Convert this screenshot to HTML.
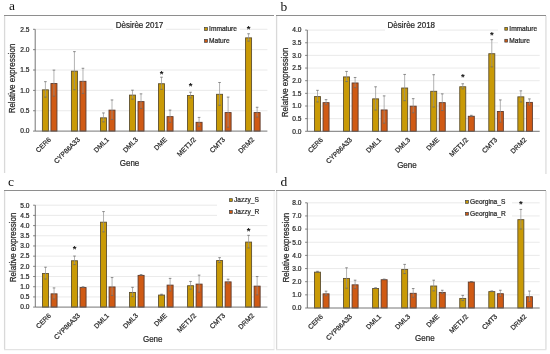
<!DOCTYPE html>
<html><head><meta charset="utf-8"><title>Figure</title>
<style>
html,body{margin:0;padding:0;background:#fff;}
body{width:550px;height:354px;overflow:hidden;font-family:"Liberation Sans",sans-serif;}
svg{display:block;will-change:transform;}
</style></head><body>
<svg width="550" height="354" viewBox="0 0 550 354">
<rect width="550" height="354" fill="#fff"/>
<path d="M4.6 173V16M276.6 173V16M4.6 349V191M276.6 349V191" fill="none" stroke="#d9d9d9" stroke-width="1.3"/>
<path d="M545.9 174V16M545.9 349V191" fill="none" stroke="#e6e6e6" stroke-width="1.8"/>
<path d="M274.1 349V191" fill="none" stroke="#f1f1f1" stroke-width="1.2"/>
<path d="M4 349.6H274.5M276 349.6H546.5" fill="none" stroke="#e3e3e3" stroke-width="1.4"/>
<path d="M4 15.5H274M276 15.5H546M4 190.5H275M276 190.5H546" fill="none" stroke="#8e8e8e" stroke-width="1"/>
<text x="9.0" y="10.3" font-family="Liberation Serif, serif" font-size="13.5" fill="#111">a</text>
<line x1="35.2" x2="267.4" y1="110.74" y2="110.74" stroke="#e4e4e4" stroke-width="0.8"/>
<line x1="35.2" x2="267.4" y1="90.38" y2="90.38" stroke="#e4e4e4" stroke-width="0.8"/>
<line x1="35.2" x2="267.4" y1="70.02" y2="70.02" stroke="#e4e4e4" stroke-width="0.8"/>
<line x1="35.2" x2="267.4" y1="49.66" y2="49.66" stroke="#e4e4e4" stroke-width="0.8"/>
<line x1="35.2" x2="267.4" y1="29.30" y2="29.30" stroke="#e4e4e4" stroke-width="0.8"/>
<rect x="113" y="23.3" width="53" height="10" fill="#fff"/>
<rect x="200" y="20" width="40" height="26" fill="#fff"/>
<rect x="42.40" y="89.84" width="6.0" height="41.26" fill="#c99a06" stroke="#5e5030" stroke-width="0.9"/>
<path d="M45.40 81.67V97.10" stroke="#929292" stroke-width="0.7" fill="none"/>
<path d="M44.10 81.67H46.70M44.10 97.10H46.70" stroke="#6a6a6a" stroke-width="0.75" fill="none"/>
<rect x="50.95" y="83.55" width="6.0" height="47.55" fill="#d05a14" stroke="#5e3a2c" stroke-width="0.9"/>
<path d="M53.95 70.10V96.09" stroke="#929292" stroke-width="0.7" fill="none"/>
<path d="M52.65 70.10H55.25M52.65 96.09H55.25" stroke="#6a6a6a" stroke-width="0.75" fill="none"/>
<rect x="71.42" y="71.16" width="6.0" height="59.94" fill="#c99a06" stroke="#5e5030" stroke-width="0.9"/>
<path d="M74.42 51.63V89.79" stroke="#929292" stroke-width="0.7" fill="none"/>
<path d="M73.12 51.63H75.72M73.12 89.79H75.72" stroke="#6a6a6a" stroke-width="0.75" fill="none"/>
<rect x="79.97" y="81.31" width="6.0" height="49.79" fill="#d05a14" stroke="#5e3a2c" stroke-width="0.9"/>
<path d="M82.97 68.28V93.45" stroke="#929292" stroke-width="0.7" fill="none"/>
<path d="M81.67 68.28H84.27M81.67 93.45H84.27" stroke="#6a6a6a" stroke-width="0.75" fill="none"/>
<rect x="100.45" y="117.85" width="6.0" height="13.25" fill="#c99a06" stroke="#5e5030" stroke-width="0.9"/>
<path d="M103.45 112.94V121.87" stroke="#929292" stroke-width="0.7" fill="none"/>
<path d="M102.15 112.94H104.75M102.15 121.87H104.75" stroke="#6a6a6a" stroke-width="0.75" fill="none"/>
<rect x="109.00" y="110.14" width="6.0" height="20.96" fill="#d05a14" stroke="#5e3a2c" stroke-width="0.9"/>
<path d="M112.00 99.94V119.43" stroke="#929292" stroke-width="0.7" fill="none"/>
<path d="M110.70 99.94H113.30M110.70 119.43H113.30" stroke="#6a6a6a" stroke-width="0.75" fill="none"/>
<rect x="129.47" y="95.12" width="6.0" height="35.98" fill="#c99a06" stroke="#5e5030" stroke-width="0.9"/>
<path d="M132.47 90.20V99.13" stroke="#929292" stroke-width="0.7" fill="none"/>
<path d="M131.17 90.20H133.77M131.17 99.13H133.77" stroke="#6a6a6a" stroke-width="0.75" fill="none"/>
<rect x="138.02" y="101.61" width="6.0" height="29.49" fill="#d05a14" stroke="#5e3a2c" stroke-width="0.9"/>
<path d="M141.02 93.85V108.47" stroke="#929292" stroke-width="0.7" fill="none"/>
<path d="M139.72 93.85H142.32M139.72 108.47H142.32" stroke="#6a6a6a" stroke-width="0.75" fill="none"/>
<rect x="158.50" y="83.75" width="6.0" height="47.35" fill="#c99a06" stroke="#5e5030" stroke-width="0.9"/>
<path d="M161.50 77.21V89.39" stroke="#929292" stroke-width="0.7" fill="none"/>
<path d="M160.20 77.21H162.80M160.20 89.39H162.80" stroke="#6a6a6a" stroke-width="0.75" fill="none"/>
<rect x="167.05" y="116.63" width="6.0" height="14.47" fill="#d05a14" stroke="#5e3a2c" stroke-width="0.9"/>
<path d="M170.05 110.09V122.27" stroke="#929292" stroke-width="0.7" fill="none"/>
<path d="M168.75 110.09H171.35M168.75 122.27H171.35" stroke="#6a6a6a" stroke-width="0.75" fill="none"/>
<rect x="187.52" y="95.52" width="6.0" height="35.58" fill="#c99a06" stroke="#5e5030" stroke-width="0.9"/>
<path d="M190.52 92.23V97.91" stroke="#929292" stroke-width="0.7" fill="none"/>
<path d="M189.22 92.23H191.82M189.22 97.91H191.82" stroke="#6a6a6a" stroke-width="0.75" fill="none"/>
<rect x="196.07" y="122.32" width="6.0" height="8.78" fill="#d05a14" stroke="#5e3a2c" stroke-width="0.9"/>
<path d="M199.07 117.40V126.33" stroke="#929292" stroke-width="0.7" fill="none"/>
<path d="M197.77 117.40H200.38M197.77 126.33H200.38" stroke="#6a6a6a" stroke-width="0.75" fill="none"/>
<rect x="216.55" y="94.30" width="6.0" height="36.80" fill="#c99a06" stroke="#5e5030" stroke-width="0.9"/>
<path d="M219.55 82.49V105.22" stroke="#929292" stroke-width="0.7" fill="none"/>
<path d="M218.25 82.49H220.85M218.25 105.22H220.85" stroke="#6a6a6a" stroke-width="0.75" fill="none"/>
<rect x="225.10" y="112.57" width="6.0" height="18.53" fill="#d05a14" stroke="#5e3a2c" stroke-width="0.9"/>
<path d="M228.10 97.10V127.15" stroke="#929292" stroke-width="0.7" fill="none"/>
<path d="M226.80 97.10H229.40M226.80 127.15H229.40" stroke="#6a6a6a" stroke-width="0.75" fill="none"/>
<rect x="245.57" y="37.87" width="6.0" height="93.23" fill="#c99a06" stroke="#5e5030" stroke-width="0.9"/>
<path d="M248.57 33.77V41.07" stroke="#929292" stroke-width="0.7" fill="none"/>
<path d="M247.27 33.77H249.88M247.27 41.07H249.88" stroke="#6a6a6a" stroke-width="0.75" fill="none"/>
<rect x="254.12" y="112.57" width="6.0" height="18.53" fill="#d05a14" stroke="#5e3a2c" stroke-width="0.9"/>
<path d="M257.12 107.25V117.00" stroke="#929292" stroke-width="0.7" fill="none"/>
<path d="M255.82 107.25H258.43M255.82 117.00H258.43" stroke="#6a6a6a" stroke-width="0.75" fill="none"/>
<text x="161.50" y="77.00" font-family="Liberation Sans, sans-serif" font-weight="bold" font-size="9.5" text-anchor="middle" fill="#111">*</text>
<text x="190.52" y="89.40" font-family="Liberation Sans, sans-serif" font-weight="bold" font-size="9.5" text-anchor="middle" fill="#111">*</text>
<text x="248.57" y="32.20" font-family="Liberation Sans, sans-serif" font-weight="bold" font-size="9.5" text-anchor="middle" fill="#111">*</text>
<line x1="35.2" x2="35.2" y1="29.3" y2="131.1" stroke="#666666" stroke-width="0.9"/>
<line x1="35.2" x2="267.4" y1="131.1" y2="131.1" stroke="#666666" stroke-width="0.9"/>
<line x1="33.0" x2="35.2" y1="131.10" y2="131.10" stroke="#666666" stroke-width="0.8"/>
<text x="29.40" y="133.40" font-family="Liberation Sans, sans-serif" stroke="#2a2a2a" stroke-width="0.22" font-size="6.6" text-anchor="end" fill="#2a2a2a">0.0</text>
<line x1="33.0" x2="35.2" y1="110.74" y2="110.74" stroke="#666666" stroke-width="0.8"/>
<text x="29.40" y="113.04" font-family="Liberation Sans, sans-serif" stroke="#2a2a2a" stroke-width="0.22" font-size="6.6" text-anchor="end" fill="#2a2a2a">0.5</text>
<line x1="33.0" x2="35.2" y1="90.38" y2="90.38" stroke="#666666" stroke-width="0.8"/>
<text x="29.40" y="92.68" font-family="Liberation Sans, sans-serif" stroke="#2a2a2a" stroke-width="0.22" font-size="6.6" text-anchor="end" fill="#2a2a2a">1.0</text>
<line x1="33.0" x2="35.2" y1="70.02" y2="70.02" stroke="#666666" stroke-width="0.8"/>
<text x="29.40" y="72.32" font-family="Liberation Sans, sans-serif" stroke="#2a2a2a" stroke-width="0.22" font-size="6.6" text-anchor="end" fill="#2a2a2a">1.5</text>
<line x1="33.0" x2="35.2" y1="49.66" y2="49.66" stroke="#666666" stroke-width="0.8"/>
<text x="29.40" y="51.96" font-family="Liberation Sans, sans-serif" stroke="#2a2a2a" stroke-width="0.22" font-size="6.6" text-anchor="end" fill="#2a2a2a">2.0</text>
<line x1="33.0" x2="35.2" y1="29.30" y2="29.30" stroke="#666666" stroke-width="0.8"/>
<text x="29.40" y="31.60" font-family="Liberation Sans, sans-serif" stroke="#2a2a2a" stroke-width="0.22" font-size="6.6" text-anchor="end" fill="#2a2a2a">2.5</text>
<text transform="translate(51.40,140.10) rotate(-45)" font-family="Liberation Sans, sans-serif" stroke="#2a2a2a" stroke-width="0.22" font-size="6.8" text-anchor="end" fill="#2a2a2a">CER6</text>
<text transform="translate(80.42,140.10) rotate(-45)" font-family="Liberation Sans, sans-serif" stroke="#2a2a2a" stroke-width="0.22" font-size="6.8" text-anchor="end" fill="#2a2a2a">CYP86A33</text>
<text transform="translate(109.45,140.10) rotate(-45)" font-family="Liberation Sans, sans-serif" stroke="#2a2a2a" stroke-width="0.22" font-size="6.8" text-anchor="end" fill="#2a2a2a">DML1</text>
<text transform="translate(138.47,140.10) rotate(-45)" font-family="Liberation Sans, sans-serif" stroke="#2a2a2a" stroke-width="0.22" font-size="6.8" text-anchor="end" fill="#2a2a2a">DML3</text>
<text transform="translate(167.50,140.10) rotate(-45)" font-family="Liberation Sans, sans-serif" stroke="#2a2a2a" stroke-width="0.22" font-size="6.8" text-anchor="end" fill="#2a2a2a">DME</text>
<text transform="translate(196.52,140.10) rotate(-45)" font-family="Liberation Sans, sans-serif" stroke="#2a2a2a" stroke-width="0.22" font-size="6.8" text-anchor="end" fill="#2a2a2a">MET1/2</text>
<text transform="translate(225.55,140.10) rotate(-45)" font-family="Liberation Sans, sans-serif" stroke="#2a2a2a" stroke-width="0.22" font-size="6.8" text-anchor="end" fill="#2a2a2a">CMT3</text>
<text transform="translate(254.57,140.10) rotate(-45)" font-family="Liberation Sans, sans-serif" stroke="#2a2a2a" stroke-width="0.22" font-size="6.8" text-anchor="end" fill="#2a2a2a">DRM2</text>
<text transform="translate(139.5,28.2) scale(1,1.12)" font-family="Liberation Sans, sans-serif" stroke="#2a2a2a" stroke-width="0.22" font-size="8" text-anchor="middle" fill="#2a2a2a">Dèsirèe 2017</text>
<rect x="204.60000000000002" y="27.599999999999998" width="2.8" height="2.8" fill="#c99a06" stroke="#3c3c3c" stroke-width="0.7"/>
<text x="209.10000000000002" y="31.299999999999997" font-family="Liberation Sans, sans-serif" stroke="#2a2a2a" stroke-width="0.22" font-size="6.6" fill="#2a2a2a">Immature</text>
<rect x="204.60000000000002" y="39.5" width="2.8" height="2.8" fill="#d05a14" stroke="#3c3c3c" stroke-width="0.7"/>
<text x="209.10000000000002" y="43.199999999999996" font-family="Liberation Sans, sans-serif" stroke="#2a2a2a" stroke-width="0.22" font-size="6.6" fill="#2a2a2a">Mature</text>
<text transform="translate(15.40,78.50) rotate(-90) scale(1,1.12)" font-family="Liberation Sans, sans-serif" stroke="#2a2a2a" stroke-width="0.22" font-size="8" text-anchor="middle" fill="#2a2a2a">Relative expression</text>
<text transform="translate(129.5,166.0) scale(1,1.12)" font-family="Liberation Sans, sans-serif" stroke="#2a2a2a" stroke-width="0.22" font-size="8" text-anchor="middle" fill="#2a2a2a">Gene</text>
<text x="280.5" y="10.6" font-family="Liberation Serif, serif" font-size="13.5" fill="#111">b</text>
<line x1="307.3" x2="539.7" y1="118.65" y2="118.65" stroke="#e4e4e4" stroke-width="0.8"/>
<line x1="307.3" x2="539.7" y1="106.00" y2="106.00" stroke="#e4e4e4" stroke-width="0.8"/>
<line x1="307.3" x2="539.7" y1="93.35" y2="93.35" stroke="#e4e4e4" stroke-width="0.8"/>
<line x1="307.3" x2="539.7" y1="80.70" y2="80.70" stroke="#e4e4e4" stroke-width="0.8"/>
<line x1="307.3" x2="539.7" y1="68.05" y2="68.05" stroke="#e4e4e4" stroke-width="0.8"/>
<line x1="307.3" x2="539.7" y1="55.40" y2="55.40" stroke="#e4e4e4" stroke-width="0.8"/>
<line x1="307.3" x2="539.7" y1="42.75" y2="42.75" stroke="#e4e4e4" stroke-width="0.8"/>
<line x1="307.3" x2="539.7" y1="30.10" y2="30.10" stroke="#e4e4e4" stroke-width="0.8"/>
<rect x="385" y="24.1" width="53" height="10" fill="#fff"/>
<rect x="498" y="20" width="47" height="30" fill="#fff"/>
<rect x="314.50" y="96.59" width="6.0" height="34.71" fill="#c99a06" stroke="#5e5030" stroke-width="0.9"/>
<path d="M317.50 90.34V101.94" stroke="#929292" stroke-width="0.7" fill="none"/>
<path d="M316.20 90.34H318.80M316.20 101.94H318.80" stroke="#6a6a6a" stroke-width="0.75" fill="none"/>
<rect x="323.05" y="102.65" width="6.0" height="28.65" fill="#d05a14" stroke="#5e3a2c" stroke-width="0.9"/>
<path d="M326.05 99.67V104.72" stroke="#929292" stroke-width="0.7" fill="none"/>
<path d="M324.75 99.67H327.35M324.75 104.72H327.35" stroke="#6a6a6a" stroke-width="0.75" fill="none"/>
<rect x="343.55" y="76.92" width="6.0" height="54.38" fill="#c99a06" stroke="#5e5030" stroke-width="0.9"/>
<path d="M346.55 71.43V81.52" stroke="#929292" stroke-width="0.7" fill="none"/>
<path d="M345.25 71.43H347.85M345.25 81.52H347.85" stroke="#6a6a6a" stroke-width="0.75" fill="none"/>
<rect x="352.10" y="82.98" width="6.0" height="48.32" fill="#d05a14" stroke="#5e3a2c" stroke-width="0.9"/>
<path d="M355.10 77.48V87.57" stroke="#929292" stroke-width="0.7" fill="none"/>
<path d="M353.80 77.48H356.40M353.80 87.57H356.40" stroke="#6a6a6a" stroke-width="0.75" fill="none"/>
<rect x="372.60" y="98.86" width="6.0" height="32.44" fill="#c99a06" stroke="#5e5030" stroke-width="0.9"/>
<path d="M375.60 86.81V110.02" stroke="#929292" stroke-width="0.7" fill="none"/>
<path d="M374.30 86.81H376.90M374.30 110.02H376.90" stroke="#6a6a6a" stroke-width="0.75" fill="none"/>
<rect x="381.15" y="109.96" width="6.0" height="21.34" fill="#d05a14" stroke="#5e3a2c" stroke-width="0.9"/>
<path d="M384.15 95.89V123.13" stroke="#929292" stroke-width="0.7" fill="none"/>
<path d="M382.85 95.89H385.45M382.85 123.13H385.45" stroke="#6a6a6a" stroke-width="0.75" fill="none"/>
<rect x="401.65" y="88.02" width="6.0" height="43.28" fill="#c99a06" stroke="#5e5030" stroke-width="0.9"/>
<path d="M404.65 74.45V100.68" stroke="#929292" stroke-width="0.7" fill="none"/>
<path d="M403.35 74.45H405.95M403.35 100.68H405.95" stroke="#6a6a6a" stroke-width="0.75" fill="none"/>
<rect x="410.20" y="106.18" width="6.0" height="25.12" fill="#d05a14" stroke="#5e3a2c" stroke-width="0.9"/>
<path d="M413.20 98.67V112.79" stroke="#929292" stroke-width="0.7" fill="none"/>
<path d="M411.90 98.67H414.50M411.90 112.79H414.50" stroke="#6a6a6a" stroke-width="0.75" fill="none"/>
<rect x="430.70" y="91.30" width="6.0" height="40.00" fill="#c99a06" stroke="#5e5030" stroke-width="0.9"/>
<path d="M433.70 74.71V106.99" stroke="#929292" stroke-width="0.7" fill="none"/>
<path d="M432.40 74.71H435.00M432.40 106.99H435.00" stroke="#6a6a6a" stroke-width="0.75" fill="none"/>
<rect x="439.25" y="102.65" width="6.0" height="28.65" fill="#d05a14" stroke="#5e3a2c" stroke-width="0.9"/>
<path d="M442.25 93.87V110.52" stroke="#929292" stroke-width="0.7" fill="none"/>
<path d="M440.95 93.87H443.55M440.95 110.52H443.55" stroke="#6a6a6a" stroke-width="0.75" fill="none"/>
<rect x="459.75" y="86.76" width="6.0" height="44.54" fill="#c99a06" stroke="#5e5030" stroke-width="0.9"/>
<path d="M462.75 83.79V88.83" stroke="#929292" stroke-width="0.7" fill="none"/>
<path d="M461.45 83.79H464.05M461.45 88.83H464.05" stroke="#6a6a6a" stroke-width="0.75" fill="none"/>
<rect x="468.30" y="116.27" width="6.0" height="15.03" fill="#d05a14" stroke="#5e3a2c" stroke-width="0.9"/>
<path d="M471.30 115.31V116.32" stroke="#929292" stroke-width="0.7" fill="none"/>
<path d="M470.00 115.31H472.60M470.00 116.32H472.60" stroke="#6a6a6a" stroke-width="0.75" fill="none"/>
<rect x="488.80" y="53.72" width="6.0" height="77.58" fill="#c99a06" stroke="#5e5030" stroke-width="0.9"/>
<path d="M491.80 39.65V66.89" stroke="#929292" stroke-width="0.7" fill="none"/>
<path d="M490.50 39.65H493.10M490.50 66.89H493.10" stroke="#6a6a6a" stroke-width="0.75" fill="none"/>
<rect x="497.35" y="111.47" width="6.0" height="19.83" fill="#d05a14" stroke="#5e3a2c" stroke-width="0.9"/>
<path d="M500.35 99.93V122.12" stroke="#929292" stroke-width="0.7" fill="none"/>
<path d="M499.05 99.93H501.65M499.05 122.12H501.65" stroke="#6a6a6a" stroke-width="0.75" fill="none"/>
<rect x="517.85" y="96.85" width="6.0" height="34.45" fill="#c99a06" stroke="#5e5030" stroke-width="0.9"/>
<path d="M520.85 90.85V101.94" stroke="#929292" stroke-width="0.7" fill="none"/>
<path d="M519.55 90.85H522.15M519.55 101.94H522.15" stroke="#6a6a6a" stroke-width="0.75" fill="none"/>
<rect x="526.40" y="102.39" width="6.0" height="28.91" fill="#d05a14" stroke="#5e3a2c" stroke-width="0.9"/>
<path d="M529.40 98.92V104.97" stroke="#929292" stroke-width="0.7" fill="none"/>
<path d="M528.10 98.92H530.70M528.10 104.97H530.70" stroke="#6a6a6a" stroke-width="0.75" fill="none"/>
<text x="462.75" y="80.30" font-family="Liberation Sans, sans-serif" font-weight="bold" font-size="9.5" text-anchor="middle" fill="#111">*</text>
<text x="491.80" y="37.70" font-family="Liberation Sans, sans-serif" font-weight="bold" font-size="9.5" text-anchor="middle" fill="#111">*</text>
<line x1="307.3" x2="307.3" y1="30.1" y2="131.3" stroke="#666666" stroke-width="0.9"/>
<line x1="307.3" x2="539.7" y1="131.3" y2="131.3" stroke="#666666" stroke-width="0.9"/>
<line x1="305.1" x2="307.3" y1="131.30" y2="131.30" stroke="#666666" stroke-width="0.8"/>
<text x="301.50" y="133.60" font-family="Liberation Sans, sans-serif" stroke="#2a2a2a" stroke-width="0.22" font-size="6.6" text-anchor="end" fill="#2a2a2a">0.0</text>
<line x1="305.1" x2="307.3" y1="118.65" y2="118.65" stroke="#666666" stroke-width="0.8"/>
<text x="301.50" y="120.95" font-family="Liberation Sans, sans-serif" stroke="#2a2a2a" stroke-width="0.22" font-size="6.6" text-anchor="end" fill="#2a2a2a">0.5</text>
<line x1="305.1" x2="307.3" y1="106.00" y2="106.00" stroke="#666666" stroke-width="0.8"/>
<text x="301.50" y="108.30" font-family="Liberation Sans, sans-serif" stroke="#2a2a2a" stroke-width="0.22" font-size="6.6" text-anchor="end" fill="#2a2a2a">1.0</text>
<line x1="305.1" x2="307.3" y1="93.35" y2="93.35" stroke="#666666" stroke-width="0.8"/>
<text x="301.50" y="95.65" font-family="Liberation Sans, sans-serif" stroke="#2a2a2a" stroke-width="0.22" font-size="6.6" text-anchor="end" fill="#2a2a2a">1.5</text>
<line x1="305.1" x2="307.3" y1="80.70" y2="80.70" stroke="#666666" stroke-width="0.8"/>
<text x="301.50" y="83.00" font-family="Liberation Sans, sans-serif" stroke="#2a2a2a" stroke-width="0.22" font-size="6.6" text-anchor="end" fill="#2a2a2a">2.0</text>
<line x1="305.1" x2="307.3" y1="68.05" y2="68.05" stroke="#666666" stroke-width="0.8"/>
<text x="301.50" y="70.35" font-family="Liberation Sans, sans-serif" stroke="#2a2a2a" stroke-width="0.22" font-size="6.6" text-anchor="end" fill="#2a2a2a">2.5</text>
<line x1="305.1" x2="307.3" y1="55.40" y2="55.40" stroke="#666666" stroke-width="0.8"/>
<text x="301.50" y="57.70" font-family="Liberation Sans, sans-serif" stroke="#2a2a2a" stroke-width="0.22" font-size="6.6" text-anchor="end" fill="#2a2a2a">3.0</text>
<line x1="305.1" x2="307.3" y1="42.75" y2="42.75" stroke="#666666" stroke-width="0.8"/>
<text x="301.50" y="45.05" font-family="Liberation Sans, sans-serif" stroke="#2a2a2a" stroke-width="0.22" font-size="6.6" text-anchor="end" fill="#2a2a2a">3.5</text>
<line x1="305.1" x2="307.3" y1="30.10" y2="30.10" stroke="#666666" stroke-width="0.8"/>
<text x="301.50" y="32.40" font-family="Liberation Sans, sans-serif" stroke="#2a2a2a" stroke-width="0.22" font-size="6.6" text-anchor="end" fill="#2a2a2a">4.0</text>
<text transform="translate(323.50,140.30) rotate(-45)" font-family="Liberation Sans, sans-serif" stroke="#2a2a2a" stroke-width="0.22" font-size="6.8" text-anchor="end" fill="#2a2a2a">CER6</text>
<text transform="translate(352.55,140.30) rotate(-45)" font-family="Liberation Sans, sans-serif" stroke="#2a2a2a" stroke-width="0.22" font-size="6.8" text-anchor="end" fill="#2a2a2a">CYP86A33</text>
<text transform="translate(381.60,140.30) rotate(-45)" font-family="Liberation Sans, sans-serif" stroke="#2a2a2a" stroke-width="0.22" font-size="6.8" text-anchor="end" fill="#2a2a2a">DML1</text>
<text transform="translate(410.65,140.30) rotate(-45)" font-family="Liberation Sans, sans-serif" stroke="#2a2a2a" stroke-width="0.22" font-size="6.8" text-anchor="end" fill="#2a2a2a">DML3</text>
<text transform="translate(439.70,140.30) rotate(-45)" font-family="Liberation Sans, sans-serif" stroke="#2a2a2a" stroke-width="0.22" font-size="6.8" text-anchor="end" fill="#2a2a2a">DME</text>
<text transform="translate(468.75,140.30) rotate(-45)" font-family="Liberation Sans, sans-serif" stroke="#2a2a2a" stroke-width="0.22" font-size="6.8" text-anchor="end" fill="#2a2a2a">MET1/2</text>
<text transform="translate(497.80,140.30) rotate(-45)" font-family="Liberation Sans, sans-serif" stroke="#2a2a2a" stroke-width="0.22" font-size="6.8" text-anchor="end" fill="#2a2a2a">CMT3</text>
<text transform="translate(526.85,140.30) rotate(-45)" font-family="Liberation Sans, sans-serif" stroke="#2a2a2a" stroke-width="0.22" font-size="6.8" text-anchor="end" fill="#2a2a2a">DRM2</text>
<text transform="translate(411.3,28.2) scale(1,1.12)" font-family="Liberation Sans, sans-serif" stroke="#2a2a2a" stroke-width="0.22" font-size="8" text-anchor="middle" fill="#2a2a2a">Dèsirèe 2018</text>
<rect x="504.8" y="27.4" width="2.8" height="2.8" fill="#c99a06" stroke="#3c3c3c" stroke-width="0.7"/>
<text x="509.3" y="31.099999999999998" font-family="Liberation Sans, sans-serif" stroke="#2a2a2a" stroke-width="0.22" font-size="6.6" fill="#2a2a2a">Immature</text>
<rect x="504.8" y="39.300000000000004" width="2.8" height="2.8" fill="#d05a14" stroke="#3c3c3c" stroke-width="0.7"/>
<text x="509.3" y="43.0" font-family="Liberation Sans, sans-serif" stroke="#2a2a2a" stroke-width="0.22" font-size="6.6" fill="#2a2a2a">Mature</text>
<text transform="translate(288.40,82.40) rotate(-90) scale(1,1.12)" font-family="Liberation Sans, sans-serif" stroke="#2a2a2a" stroke-width="0.22" font-size="8" text-anchor="middle" fill="#2a2a2a">Relative expression</text>
<text transform="translate(406.9,167.8) scale(1,1.12)" font-family="Liberation Sans, sans-serif" stroke="#2a2a2a" stroke-width="0.22" font-size="8" text-anchor="middle" fill="#2a2a2a">Gene</text>
<text x="8.0" y="185.8" font-family="Liberation Serif, serif" font-size="13.5" fill="#111">c</text>
<line x1="35.3" x2="267.4" y1="296.91" y2="296.91" stroke="#e4e4e4" stroke-width="0.8"/>
<line x1="35.3" x2="267.4" y1="286.72" y2="286.72" stroke="#e4e4e4" stroke-width="0.8"/>
<line x1="35.3" x2="267.4" y1="276.53" y2="276.53" stroke="#e4e4e4" stroke-width="0.8"/>
<line x1="35.3" x2="267.4" y1="266.34" y2="266.34" stroke="#e4e4e4" stroke-width="0.8"/>
<line x1="35.3" x2="267.4" y1="256.15" y2="256.15" stroke="#e4e4e4" stroke-width="0.8"/>
<line x1="35.3" x2="267.4" y1="245.96" y2="245.96" stroke="#e4e4e4" stroke-width="0.8"/>
<line x1="35.3" x2="267.4" y1="235.77" y2="235.77" stroke="#e4e4e4" stroke-width="0.8"/>
<line x1="35.3" x2="267.4" y1="225.58" y2="225.58" stroke="#e4e4e4" stroke-width="0.8"/>
<line x1="35.3" x2="267.4" y1="215.39" y2="215.39" stroke="#e4e4e4" stroke-width="0.8"/>
<line x1="35.3" x2="267.4" y1="205.20" y2="205.20" stroke="#e4e4e4" stroke-width="0.8"/>
<rect x="217" y="195" width="51" height="26" fill="#fff"/>
<rect x="42.50" y="273.55" width="6.0" height="33.55" fill="#c99a06" stroke="#5e5030" stroke-width="0.9"/>
<path d="M45.50 267.22V278.99" stroke="#929292" stroke-width="0.7" fill="none"/>
<path d="M44.20 267.22H46.80M44.20 278.99H46.80" stroke="#6a6a6a" stroke-width="0.75" fill="none"/>
<rect x="51.05" y="293.85" width="6.0" height="13.25" fill="#d05a14" stroke="#5e3a2c" stroke-width="0.9"/>
<path d="M54.05 287.92V298.88" stroke="#929292" stroke-width="0.7" fill="none"/>
<path d="M52.75 287.92H55.35M52.75 298.88H55.35" stroke="#6a6a6a" stroke-width="0.75" fill="none"/>
<rect x="71.51" y="260.76" width="6.0" height="46.34" fill="#c99a06" stroke="#5e5030" stroke-width="0.9"/>
<path d="M74.51 256.05V264.58" stroke="#929292" stroke-width="0.7" fill="none"/>
<path d="M73.21 256.05H75.81M73.21 264.58H75.81" stroke="#6a6a6a" stroke-width="0.75" fill="none"/>
<rect x="80.06" y="287.56" width="6.0" height="19.54" fill="#d05a14" stroke="#5e3a2c" stroke-width="0.9"/>
<path d="M83.06 286.91V287.31" stroke="#929292" stroke-width="0.7" fill="none"/>
<path d="M81.76 286.91H84.36M81.76 287.31H84.36" stroke="#6a6a6a" stroke-width="0.75" fill="none"/>
<rect x="100.52" y="222.19" width="6.0" height="84.91" fill="#c99a06" stroke="#5e5030" stroke-width="0.9"/>
<path d="M103.52 211.59V231.89" stroke="#929292" stroke-width="0.7" fill="none"/>
<path d="M102.22 211.59H104.82M102.22 231.89H104.82" stroke="#6a6a6a" stroke-width="0.75" fill="none"/>
<rect x="109.07" y="286.95" width="6.0" height="20.15" fill="#d05a14" stroke="#5e3a2c" stroke-width="0.9"/>
<path d="M112.07 277.57V295.43" stroke="#929292" stroke-width="0.7" fill="none"/>
<path d="M110.77 277.57H113.37M110.77 295.43H113.37" stroke="#6a6a6a" stroke-width="0.75" fill="none"/>
<rect x="129.54" y="292.43" width="6.0" height="14.67" fill="#c99a06" stroke="#5e5030" stroke-width="0.9"/>
<path d="M132.54 287.31V296.65" stroke="#929292" stroke-width="0.7" fill="none"/>
<path d="M131.24 287.31H133.84M131.24 296.65H133.84" stroke="#6a6a6a" stroke-width="0.75" fill="none"/>
<rect x="138.09" y="275.38" width="6.0" height="31.72" fill="#d05a14" stroke="#5e3a2c" stroke-width="0.9"/>
<path d="M141.09 274.73V275.13" stroke="#929292" stroke-width="0.7" fill="none"/>
<path d="M139.79 274.73H142.39M139.79 275.13H142.39" stroke="#6a6a6a" stroke-width="0.75" fill="none"/>
<rect x="158.55" y="295.07" width="6.0" height="12.03" fill="#c99a06" stroke="#5e5030" stroke-width="0.9"/>
<path d="M161.55 294.21V295.03" stroke="#929292" stroke-width="0.7" fill="none"/>
<path d="M160.25 294.21H162.85M160.25 295.03H162.85" stroke="#6a6a6a" stroke-width="0.75" fill="none"/>
<rect x="167.10" y="285.12" width="6.0" height="21.98" fill="#d05a14" stroke="#5e3a2c" stroke-width="0.9"/>
<path d="M170.10 278.38V290.97" stroke="#929292" stroke-width="0.7" fill="none"/>
<path d="M168.80 278.38H171.40M168.80 290.97H171.40" stroke="#6a6a6a" stroke-width="0.75" fill="none"/>
<rect x="187.56" y="285.73" width="6.0" height="21.37" fill="#c99a06" stroke="#5e5030" stroke-width="0.9"/>
<path d="M190.56 281.43V289.14" stroke="#929292" stroke-width="0.7" fill="none"/>
<path d="M189.26 281.43H191.86M189.26 289.14H191.86" stroke="#6a6a6a" stroke-width="0.75" fill="none"/>
<rect x="196.11" y="284.11" width="6.0" height="22.99" fill="#d05a14" stroke="#5e3a2c" stroke-width="0.9"/>
<path d="M199.11 275.13V292.18" stroke="#929292" stroke-width="0.7" fill="none"/>
<path d="M197.81 275.13H200.41M197.81 292.18H200.41" stroke="#6a6a6a" stroke-width="0.75" fill="none"/>
<rect x="216.57" y="260.56" width="6.0" height="46.54" fill="#c99a06" stroke="#5e5030" stroke-width="0.9"/>
<path d="M219.57 257.67V262.55" stroke="#929292" stroke-width="0.7" fill="none"/>
<path d="M218.27 257.67H220.88M218.27 262.55H220.88" stroke="#6a6a6a" stroke-width="0.75" fill="none"/>
<rect x="225.12" y="281.88" width="6.0" height="25.23" fill="#d05a14" stroke="#5e3a2c" stroke-width="0.9"/>
<path d="M228.12 279.19V283.66" stroke="#929292" stroke-width="0.7" fill="none"/>
<path d="M226.82 279.19H229.43M226.82 283.66H229.43" stroke="#6a6a6a" stroke-width="0.75" fill="none"/>
<rect x="245.59" y="242.09" width="6.0" height="65.01" fill="#c99a06" stroke="#5e5030" stroke-width="0.9"/>
<path d="M248.59 235.34V247.93" stroke="#929292" stroke-width="0.7" fill="none"/>
<path d="M247.29 235.34H249.89M247.29 247.93H249.89" stroke="#6a6a6a" stroke-width="0.75" fill="none"/>
<rect x="254.14" y="286.14" width="6.0" height="20.96" fill="#d05a14" stroke="#5e3a2c" stroke-width="0.9"/>
<path d="M257.14 276.55V294.82" stroke="#929292" stroke-width="0.7" fill="none"/>
<path d="M255.84 276.55H258.44M255.84 294.82H258.44" stroke="#6a6a6a" stroke-width="0.75" fill="none"/>
<text x="74.51" y="252.20" font-family="Liberation Sans, sans-serif" font-weight="bold" font-size="9.5" text-anchor="middle" fill="#111">*</text>
<text x="248.59" y="233.70" font-family="Liberation Sans, sans-serif" font-weight="bold" font-size="9.5" text-anchor="middle" fill="#111">*</text>
<line x1="35.3" x2="35.3" y1="205.2" y2="307.1" stroke="#666666" stroke-width="0.9"/>
<line x1="35.3" x2="267.4" y1="307.1" y2="307.1" stroke="#666666" stroke-width="0.9"/>
<line x1="33.099999999999994" x2="35.3" y1="307.10" y2="307.10" stroke="#666666" stroke-width="0.8"/>
<text x="29.50" y="309.40" font-family="Liberation Sans, sans-serif" stroke="#2a2a2a" stroke-width="0.22" font-size="6.6" text-anchor="end" fill="#2a2a2a">0.0</text>
<line x1="33.099999999999994" x2="35.3" y1="296.91" y2="296.91" stroke="#666666" stroke-width="0.8"/>
<text x="29.50" y="299.21" font-family="Liberation Sans, sans-serif" stroke="#2a2a2a" stroke-width="0.22" font-size="6.6" text-anchor="end" fill="#2a2a2a">0.5</text>
<line x1="33.099999999999994" x2="35.3" y1="286.72" y2="286.72" stroke="#666666" stroke-width="0.8"/>
<text x="29.50" y="289.02" font-family="Liberation Sans, sans-serif" stroke="#2a2a2a" stroke-width="0.22" font-size="6.6" text-anchor="end" fill="#2a2a2a">1.0</text>
<line x1="33.099999999999994" x2="35.3" y1="276.53" y2="276.53" stroke="#666666" stroke-width="0.8"/>
<text x="29.50" y="278.83" font-family="Liberation Sans, sans-serif" stroke="#2a2a2a" stroke-width="0.22" font-size="6.6" text-anchor="end" fill="#2a2a2a">1.5</text>
<line x1="33.099999999999994" x2="35.3" y1="266.34" y2="266.34" stroke="#666666" stroke-width="0.8"/>
<text x="29.50" y="268.64" font-family="Liberation Sans, sans-serif" stroke="#2a2a2a" stroke-width="0.22" font-size="6.6" text-anchor="end" fill="#2a2a2a">2.0</text>
<line x1="33.099999999999994" x2="35.3" y1="256.15" y2="256.15" stroke="#666666" stroke-width="0.8"/>
<text x="29.50" y="258.45" font-family="Liberation Sans, sans-serif" stroke="#2a2a2a" stroke-width="0.22" font-size="6.6" text-anchor="end" fill="#2a2a2a">2.5</text>
<line x1="33.099999999999994" x2="35.3" y1="245.96" y2="245.96" stroke="#666666" stroke-width="0.8"/>
<text x="29.50" y="248.26" font-family="Liberation Sans, sans-serif" stroke="#2a2a2a" stroke-width="0.22" font-size="6.6" text-anchor="end" fill="#2a2a2a">3.0</text>
<line x1="33.099999999999994" x2="35.3" y1="235.77" y2="235.77" stroke="#666666" stroke-width="0.8"/>
<text x="29.50" y="238.07" font-family="Liberation Sans, sans-serif" stroke="#2a2a2a" stroke-width="0.22" font-size="6.6" text-anchor="end" fill="#2a2a2a">3.5</text>
<line x1="33.099999999999994" x2="35.3" y1="225.58" y2="225.58" stroke="#666666" stroke-width="0.8"/>
<text x="29.50" y="227.88" font-family="Liberation Sans, sans-serif" stroke="#2a2a2a" stroke-width="0.22" font-size="6.6" text-anchor="end" fill="#2a2a2a">4.0</text>
<line x1="33.099999999999994" x2="35.3" y1="215.39" y2="215.39" stroke="#666666" stroke-width="0.8"/>
<text x="29.50" y="217.69" font-family="Liberation Sans, sans-serif" stroke="#2a2a2a" stroke-width="0.22" font-size="6.6" text-anchor="end" fill="#2a2a2a">4.5</text>
<line x1="33.099999999999994" x2="35.3" y1="205.20" y2="205.20" stroke="#666666" stroke-width="0.8"/>
<text x="29.50" y="207.50" font-family="Liberation Sans, sans-serif" stroke="#2a2a2a" stroke-width="0.22" font-size="6.6" text-anchor="end" fill="#2a2a2a">5.0</text>
<text transform="translate(51.50,316.10) rotate(-45)" font-family="Liberation Sans, sans-serif" stroke="#2a2a2a" stroke-width="0.22" font-size="6.8" text-anchor="end" fill="#2a2a2a">CER6</text>
<text transform="translate(80.51,316.10) rotate(-45)" font-family="Liberation Sans, sans-serif" stroke="#2a2a2a" stroke-width="0.22" font-size="6.8" text-anchor="end" fill="#2a2a2a">CYP86A33</text>
<text transform="translate(109.52,316.10) rotate(-45)" font-family="Liberation Sans, sans-serif" stroke="#2a2a2a" stroke-width="0.22" font-size="6.8" text-anchor="end" fill="#2a2a2a">DML1</text>
<text transform="translate(138.54,316.10) rotate(-45)" font-family="Liberation Sans, sans-serif" stroke="#2a2a2a" stroke-width="0.22" font-size="6.8" text-anchor="end" fill="#2a2a2a">DML3</text>
<text transform="translate(167.55,316.10) rotate(-45)" font-family="Liberation Sans, sans-serif" stroke="#2a2a2a" stroke-width="0.22" font-size="6.8" text-anchor="end" fill="#2a2a2a">DME</text>
<text transform="translate(196.56,316.10) rotate(-45)" font-family="Liberation Sans, sans-serif" stroke="#2a2a2a" stroke-width="0.22" font-size="6.8" text-anchor="end" fill="#2a2a2a">MET1/2</text>
<text transform="translate(225.57,316.10) rotate(-45)" font-family="Liberation Sans, sans-serif" stroke="#2a2a2a" stroke-width="0.22" font-size="6.8" text-anchor="end" fill="#2a2a2a">CMT3</text>
<text transform="translate(254.59,316.10) rotate(-45)" font-family="Liberation Sans, sans-serif" stroke="#2a2a2a" stroke-width="0.22" font-size="6.8" text-anchor="end" fill="#2a2a2a">DRM2</text>
<rect x="229.5" y="198.7" width="2.8" height="2.8" fill="#c99a06" stroke="#3c3c3c" stroke-width="0.7"/>
<text x="234.0" y="202.4" font-family="Liberation Sans, sans-serif" stroke="#2a2a2a" stroke-width="0.22" font-size="6.6" fill="#2a2a2a">Jazzy_S</text>
<rect x="229.5" y="210.6" width="2.8" height="2.8" fill="#d05a14" stroke="#3c3c3c" stroke-width="0.7"/>
<text x="234.0" y="214.3" font-family="Liberation Sans, sans-serif" stroke="#2a2a2a" stroke-width="0.22" font-size="6.6" fill="#2a2a2a">Jazzy_R</text>
<text transform="translate(16.10,247.40) rotate(-90) scale(1,1.12)" font-family="Liberation Sans, sans-serif" stroke="#2a2a2a" stroke-width="0.22" font-size="8" text-anchor="middle" fill="#2a2a2a">Relative expression</text>
<text transform="translate(152.7,342.3) scale(1,1.12)" font-family="Liberation Sans, sans-serif" stroke="#2a2a2a" stroke-width="0.22" font-size="8" text-anchor="middle" fill="#2a2a2a">Gene</text>
<text x="280.4" y="185.6" font-family="Liberation Serif, serif" font-size="13.5" fill="#111">d</text>
<line x1="307.3" x2="539.7" y1="294.85" y2="294.85" stroke="#e4e4e4" stroke-width="0.8"/>
<line x1="307.3" x2="539.7" y1="281.70" y2="281.70" stroke="#e4e4e4" stroke-width="0.8"/>
<line x1="307.3" x2="539.7" y1="268.55" y2="268.55" stroke="#e4e4e4" stroke-width="0.8"/>
<line x1="307.3" x2="539.7" y1="255.40" y2="255.40" stroke="#e4e4e4" stroke-width="0.8"/>
<line x1="307.3" x2="539.7" y1="242.25" y2="242.25" stroke="#e4e4e4" stroke-width="0.8"/>
<line x1="307.3" x2="539.7" y1="229.10" y2="229.10" stroke="#e4e4e4" stroke-width="0.8"/>
<line x1="307.3" x2="539.7" y1="215.95" y2="215.95" stroke="#e4e4e4" stroke-width="0.8"/>
<line x1="307.3" x2="539.7" y1="202.80" y2="202.80" stroke="#e4e4e4" stroke-width="0.8"/>
<rect x="464" y="196" width="48" height="24" fill="#fff"/>
<rect x="314.50" y="272.17" width="6.0" height="35.83" fill="#c99a06" stroke="#5e5030" stroke-width="0.9"/>
<path d="M317.50 271.32V272.11" stroke="#929292" stroke-width="0.7" fill="none"/>
<path d="M316.20 271.32H318.80M316.20 272.11H318.80" stroke="#6a6a6a" stroke-width="0.75" fill="none"/>
<rect x="323.05" y="293.85" width="6.0" height="14.15" fill="#d05a14" stroke="#5e3a2c" stroke-width="0.9"/>
<path d="M326.05 291.18V295.62" stroke="#929292" stroke-width="0.7" fill="none"/>
<path d="M324.75 291.18H327.35M324.75 295.62H327.35" stroke="#6a6a6a" stroke-width="0.75" fill="none"/>
<rect x="343.55" y="278.43" width="6.0" height="29.57" fill="#c99a06" stroke="#5e5030" stroke-width="0.9"/>
<path d="M346.55 267.80V288.17" stroke="#929292" stroke-width="0.7" fill="none"/>
<path d="M345.25 267.80H347.85M345.25 288.17H347.85" stroke="#6a6a6a" stroke-width="0.75" fill="none"/>
<rect x="352.10" y="284.83" width="6.0" height="23.17" fill="#d05a14" stroke="#5e3a2c" stroke-width="0.9"/>
<path d="M355.10 280.20V288.56" stroke="#929292" stroke-width="0.7" fill="none"/>
<path d="M353.80 280.20H356.40M353.80 288.56H356.40" stroke="#6a6a6a" stroke-width="0.75" fill="none"/>
<rect x="372.60" y="288.49" width="6.0" height="19.51" fill="#c99a06" stroke="#5e5030" stroke-width="0.9"/>
<path d="M375.60 287.91V288.17" stroke="#929292" stroke-width="0.7" fill="none"/>
<path d="M374.30 287.91H376.90M374.30 288.17H376.90" stroke="#6a6a6a" stroke-width="0.75" fill="none"/>
<rect x="381.15" y="279.74" width="6.0" height="28.26" fill="#d05a14" stroke="#5e3a2c" stroke-width="0.9"/>
<path d="M384.15 279.16V279.42" stroke="#929292" stroke-width="0.7" fill="none"/>
<path d="M382.85 279.16H385.45M382.85 279.42H385.45" stroke="#6a6a6a" stroke-width="0.75" fill="none"/>
<rect x="401.65" y="269.42" width="6.0" height="38.58" fill="#c99a06" stroke="#5e5030" stroke-width="0.9"/>
<path d="M404.65 264.40V273.54" stroke="#929292" stroke-width="0.7" fill="none"/>
<path d="M403.35 264.40H405.95M403.35 273.54H405.95" stroke="#6a6a6a" stroke-width="0.75" fill="none"/>
<rect x="410.20" y="293.32" width="6.0" height="14.68" fill="#d05a14" stroke="#5e3a2c" stroke-width="0.9"/>
<path d="M413.20 288.56V297.18" stroke="#929292" stroke-width="0.7" fill="none"/>
<path d="M411.90 288.56H414.50M411.90 297.18H414.50" stroke="#6a6a6a" stroke-width="0.75" fill="none"/>
<rect x="430.70" y="286.01" width="6.0" height="21.99" fill="#c99a06" stroke="#5e5030" stroke-width="0.9"/>
<path d="M433.70 280.20V290.91" stroke="#929292" stroke-width="0.7" fill="none"/>
<path d="M432.40 280.20H435.00M432.40 290.91H435.00" stroke="#6a6a6a" stroke-width="0.75" fill="none"/>
<rect x="439.25" y="292.41" width="6.0" height="15.59" fill="#d05a14" stroke="#5e3a2c" stroke-width="0.9"/>
<path d="M442.25 290.26V293.66" stroke="#929292" stroke-width="0.7" fill="none"/>
<path d="M440.95 290.26H443.55M440.95 293.66H443.55" stroke="#6a6a6a" stroke-width="0.75" fill="none"/>
<rect x="459.75" y="298.42" width="6.0" height="9.58" fill="#c99a06" stroke="#5e5030" stroke-width="0.9"/>
<path d="M462.75 295.35V300.58" stroke="#929292" stroke-width="0.7" fill="none"/>
<path d="M461.45 295.35H464.05M461.45 300.58H464.05" stroke="#6a6a6a" stroke-width="0.75" fill="none"/>
<rect x="468.30" y="282.09" width="6.0" height="25.91" fill="#d05a14" stroke="#5e3a2c" stroke-width="0.9"/>
<path d="M471.30 281.51V281.77" stroke="#929292" stroke-width="0.7" fill="none"/>
<path d="M470.00 281.51H472.60M470.00 281.77H472.60" stroke="#6a6a6a" stroke-width="0.75" fill="none"/>
<rect x="488.80" y="291.62" width="6.0" height="16.38" fill="#c99a06" stroke="#5e5030" stroke-width="0.9"/>
<path d="M491.80 291.04V291.31" stroke="#929292" stroke-width="0.7" fill="none"/>
<path d="M490.50 291.04H493.10M490.50 291.31H493.10" stroke="#6a6a6a" stroke-width="0.75" fill="none"/>
<rect x="497.35" y="293.71" width="6.0" height="14.29" fill="#d05a14" stroke="#5e3a2c" stroke-width="0.9"/>
<path d="M500.35 290.26V296.27" stroke="#929292" stroke-width="0.7" fill="none"/>
<path d="M499.05 290.26H501.65M499.05 296.27H501.65" stroke="#6a6a6a" stroke-width="0.75" fill="none"/>
<rect x="517.85" y="219.66" width="6.0" height="88.34" fill="#c99a06" stroke="#5e5030" stroke-width="0.9"/>
<path d="M520.85 209.42V229.01" stroke="#929292" stroke-width="0.7" fill="none"/>
<path d="M519.55 209.42H522.15M519.55 229.01H522.15" stroke="#6a6a6a" stroke-width="0.75" fill="none"/>
<rect x="526.40" y="296.72" width="6.0" height="11.28" fill="#d05a14" stroke="#5e3a2c" stroke-width="0.9"/>
<path d="M529.40 291.04V301.49" stroke="#929292" stroke-width="0.7" fill="none"/>
<path d="M528.10 291.04H530.70M528.10 301.49H530.70" stroke="#6a6a6a" stroke-width="0.75" fill="none"/>
<text x="520.85" y="206.80" font-family="Liberation Sans, sans-serif" font-weight="bold" font-size="9.5" text-anchor="middle" fill="#111">*</text>
<line x1="307.3" x2="307.3" y1="202.8" y2="308.0" stroke="#666666" stroke-width="0.9"/>
<line x1="307.3" x2="539.7" y1="308.0" y2="308.0" stroke="#666666" stroke-width="0.9"/>
<line x1="305.1" x2="307.3" y1="308.00" y2="308.00" stroke="#666666" stroke-width="0.8"/>
<text x="301.50" y="310.30" font-family="Liberation Sans, sans-serif" stroke="#2a2a2a" stroke-width="0.22" font-size="6.6" text-anchor="end" fill="#2a2a2a">0.0</text>
<line x1="305.1" x2="307.3" y1="294.85" y2="294.85" stroke="#666666" stroke-width="0.8"/>
<text x="301.50" y="297.15" font-family="Liberation Sans, sans-serif" stroke="#2a2a2a" stroke-width="0.22" font-size="6.6" text-anchor="end" fill="#2a2a2a">1.0</text>
<line x1="305.1" x2="307.3" y1="281.70" y2="281.70" stroke="#666666" stroke-width="0.8"/>
<text x="301.50" y="284.00" font-family="Liberation Sans, sans-serif" stroke="#2a2a2a" stroke-width="0.22" font-size="6.6" text-anchor="end" fill="#2a2a2a">2.0</text>
<line x1="305.1" x2="307.3" y1="268.55" y2="268.55" stroke="#666666" stroke-width="0.8"/>
<text x="301.50" y="270.85" font-family="Liberation Sans, sans-serif" stroke="#2a2a2a" stroke-width="0.22" font-size="6.6" text-anchor="end" fill="#2a2a2a">3.0</text>
<line x1="305.1" x2="307.3" y1="255.40" y2="255.40" stroke="#666666" stroke-width="0.8"/>
<text x="301.50" y="257.70" font-family="Liberation Sans, sans-serif" stroke="#2a2a2a" stroke-width="0.22" font-size="6.6" text-anchor="end" fill="#2a2a2a">4.0</text>
<line x1="305.1" x2="307.3" y1="242.25" y2="242.25" stroke="#666666" stroke-width="0.8"/>
<text x="301.50" y="244.55" font-family="Liberation Sans, sans-serif" stroke="#2a2a2a" stroke-width="0.22" font-size="6.6" text-anchor="end" fill="#2a2a2a">5.0</text>
<line x1="305.1" x2="307.3" y1="229.10" y2="229.10" stroke="#666666" stroke-width="0.8"/>
<text x="301.50" y="231.40" font-family="Liberation Sans, sans-serif" stroke="#2a2a2a" stroke-width="0.22" font-size="6.6" text-anchor="end" fill="#2a2a2a">6.0</text>
<line x1="305.1" x2="307.3" y1="215.95" y2="215.95" stroke="#666666" stroke-width="0.8"/>
<text x="301.50" y="218.25" font-family="Liberation Sans, sans-serif" stroke="#2a2a2a" stroke-width="0.22" font-size="6.6" text-anchor="end" fill="#2a2a2a">7.0</text>
<line x1="305.1" x2="307.3" y1="202.80" y2="202.80" stroke="#666666" stroke-width="0.8"/>
<text x="301.50" y="205.10" font-family="Liberation Sans, sans-serif" stroke="#2a2a2a" stroke-width="0.22" font-size="6.6" text-anchor="end" fill="#2a2a2a">8.0</text>
<text transform="translate(323.50,317.00) rotate(-45)" font-family="Liberation Sans, sans-serif" stroke="#2a2a2a" stroke-width="0.22" font-size="6.8" text-anchor="end" fill="#2a2a2a">CER6</text>
<text transform="translate(352.55,317.00) rotate(-45)" font-family="Liberation Sans, sans-serif" stroke="#2a2a2a" stroke-width="0.22" font-size="6.8" text-anchor="end" fill="#2a2a2a">CYP86A33</text>
<text transform="translate(381.60,317.00) rotate(-45)" font-family="Liberation Sans, sans-serif" stroke="#2a2a2a" stroke-width="0.22" font-size="6.8" text-anchor="end" fill="#2a2a2a">DML1</text>
<text transform="translate(410.65,317.00) rotate(-45)" font-family="Liberation Sans, sans-serif" stroke="#2a2a2a" stroke-width="0.22" font-size="6.8" text-anchor="end" fill="#2a2a2a">DML3</text>
<text transform="translate(439.70,317.00) rotate(-45)" font-family="Liberation Sans, sans-serif" stroke="#2a2a2a" stroke-width="0.22" font-size="6.8" text-anchor="end" fill="#2a2a2a">DME</text>
<text transform="translate(468.75,317.00) rotate(-45)" font-family="Liberation Sans, sans-serif" stroke="#2a2a2a" stroke-width="0.22" font-size="6.8" text-anchor="end" fill="#2a2a2a">MET1/2</text>
<text transform="translate(497.80,317.00) rotate(-45)" font-family="Liberation Sans, sans-serif" stroke="#2a2a2a" stroke-width="0.22" font-size="6.8" text-anchor="end" fill="#2a2a2a">CMT3</text>
<text transform="translate(526.85,317.00) rotate(-45)" font-family="Liberation Sans, sans-serif" stroke="#2a2a2a" stroke-width="0.22" font-size="6.8" text-anchor="end" fill="#2a2a2a">DRM2</text>
<rect x="465.6" y="200.5" width="2.8" height="2.8" fill="#c99a06" stroke="#3c3c3c" stroke-width="0.7"/>
<text x="470.1" y="204.20000000000002" font-family="Liberation Sans, sans-serif" stroke="#2a2a2a" stroke-width="0.22" font-size="6.6" fill="#2a2a2a">Georgina_S</text>
<rect x="465.6" y="212.4" width="2.8" height="2.8" fill="#d05a14" stroke="#3c3c3c" stroke-width="0.7"/>
<text x="470.1" y="216.10000000000002" font-family="Liberation Sans, sans-serif" stroke="#2a2a2a" stroke-width="0.22" font-size="6.6" fill="#2a2a2a">Georgina_R</text>
<text transform="translate(288.70,247.60) rotate(-90) scale(1,1.12)" font-family="Liberation Sans, sans-serif" stroke="#2a2a2a" stroke-width="0.22" font-size="8" text-anchor="middle" fill="#2a2a2a">Relative expression</text>
<text transform="translate(424.8,340.6) scale(1,1.12)" font-family="Liberation Sans, sans-serif" stroke="#2a2a2a" stroke-width="0.22" font-size="8" text-anchor="middle" fill="#2a2a2a">Gene</text>
</svg>
</body></html>
